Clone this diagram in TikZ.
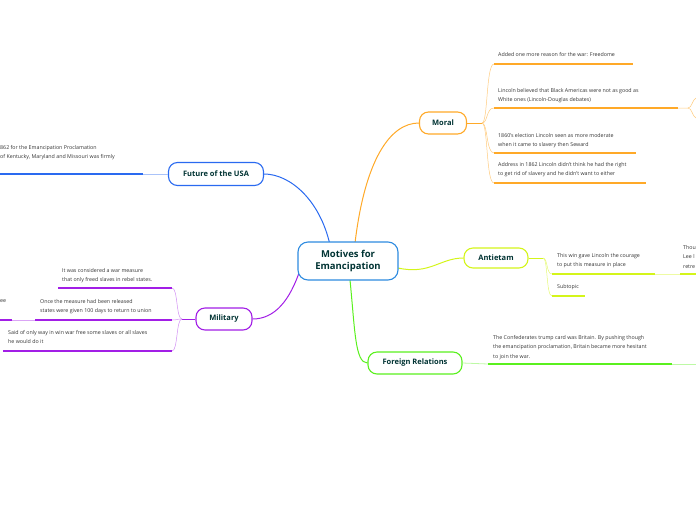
\documentclass[tikz,border=0pt]{standalone}
\usepackage{fontspec}
\setmainfont{Open Sans}
\begin{document}
\begin{tikzpicture}[x=1pt,y=-1pt,
  txt/.style={anchor=north west,inner sep=0pt,align=left,font=\fontsize{5.3}{9.5}\selectfont,text=black!80},
  topic/.style={draw,line width=1.1pt,rounded corners=9pt,fill=white,font=\bfseries\fontsize{7.5}{9}\selectfont,text=teal!40!black,inner sep=0pt},
  conn/.style={line width=1pt}]
\useasboundingbox (0,0) rectangle (696,520);
\definecolor{cor}{HTML}{FFA928}\definecolor{cyl}{HTML}{D4F51A}\definecolor{cgr}{HTML}{5AF01E}
\definecolor{cpu}{HTML}{A21EE6}\definecolor{cbl}{HTML}{2A6AF0}\definecolor{cce}{HTML}{2E8BE0}
% connectors (centre)
\coordinate (cM) at (355,243); \coordinate (cF) at (330,245);\coordinate (cMi) at (300,270);
\coordinate (cA) at (398,268);\coordinate (cFo) at (350,280);
\node[topic,draw=cor,minimum width=47pt,minimum height=22pt] (moral) at (443,123) {Moral};
\node[topic,draw=cyl,minimum width=64pt,minimum height=20pt] (ant) at (496,258) {Antietam};
\node[topic,draw=cgr,minimum width=94pt,minimum height=22pt] (for) at (415,363) {Foreign Relations};
\node[topic,draw=cpu,minimum width=56pt,minimum height=22pt] (mil) at (224,319) {Military};
\node[topic,draw=cbl,minimum width=95pt,minimum height=23pt] (fut) at (216,174) {Future of the USA};
\draw[conn,cor] (cM) .. controls (365,160) and (390,123) .. (moral.west);
\draw[conn,cbl] (fut.east) .. controls (290,174) and (320,200) .. (cF);
\draw[conn,cpu] (mil.east) .. controls (275,319) and (290,300) .. (cMi);
\draw[conn,cyl] (cA) .. controls (430,275) and (440,258) .. (ant.west);
\draw[conn,cgr] (cFo) .. controls (355,330) and (355,363) .. (for.west);
\node[draw=cce,line width=1.1pt,rounded corners=10pt,fill=white,minimum width=100pt,minimum height=38pt,align=center,font=\bfseries\fontsize{9.5}{12}\selectfont,text=teal!40!black] (c) at (348,261) {Motives for\\Emancipation};
% Moral children
\coordinate (mf) at (482,123);
\draw[cor,line width=0.6pt] (moral.east) -- (mf);
\foreach \y/\e in {64/633,108/678,153/636,183/646}{
 \draw[cor!60,line width=0.5pt] (mf) .. controls (488,123) and (486,\y) .. (494,\y);
 \draw[cor,line width=1.2pt] (494,\y) -- (\e,\y);}
\draw[cor!60,line width=0.5pt] (678,108) -- (688,108) .. controls (692,108) and (692,100) .. (696,98);
\draw[cor!60,line width=0.5pt] (688,108) .. controls (692,108) and (692,116) .. (696,118);
\node[txt] (m1) at (498,52) {Added one more reason for the war: Freedome};
\node[txt] (m2) at (498,88) {Lincoln believed that Black Americas were not as good as\\White ones (Lincoln-Douglas debates)};
\node[txt] (m3) at (498,133) {1860's election Lincoln seen as more moderate\\when it came to slavery then Seward};
\node[txt] (m4) at (498,162) {Address in 1862 Lincoln didn't think he had the right\\to get rid of slavery and he didn't want to either};
% Antietam
\coordinate (af) at (543,258);
\draw[cyl,line width=0.6pt] (ant.east) -- (af);
\draw[cyl!60,line width=0.5pt] (af) .. controls (548,258) and (546,274) .. (552,274);
\draw[cyl!60,line width=0.5pt] (af) .. controls (548,258) and (546,296) .. (552,296);
\draw[cyl,line width=1.2pt] (552,274) -- (655,274);
\draw[cyl!40,line width=0.8pt] (655,274) -- (680,274);
\draw[cyl,line width=1.2pt] (680,274) -- (696,274);
\draw[cyl,line width=1.2pt] (552,296) -- (585,296);
\node[txt] (a1) at (557,253) {This win gave Lincoln the courage\\to put this measure in place};
\node[txt] (a2) at (557,284) {Subtopic};
\node[txt] (a3) at (683,245) {Thou\\Lee l\\retre};
% Foreign
\draw[cgr!40,line width=0.8pt] (for.east) -- (488,364);
\draw[cgr,line width=1.2pt] (488,364) -- (672,364);
\draw[cgr!40,line width=0.8pt] (672,364) -- (696,364);
\node[txt] (f1) at (493,335) {The Confederates trump card was Britain. By pushing though\\the emancipation proclamation, Britain became more hesitant\\to join the war.};
% Military
\coordinate (lf) at (182,319);
\draw[cpu,line width=0.6pt] (mil.west) -- (lf);
\foreach \y/\s in {288/58,320/35,351/3}{
 \draw[cpu!50,line width=0.5pt] (lf) .. controls (176,319) and (178,\y) .. (172,\y);
 \draw[cpu,line width=1.2pt] (172,\y) -- (\s,\y);}
\draw[cpu!40,line width=0.8pt] (35,320) -- (12,320);
\draw[cpu,line width=1.2pt] (12,320) -- (0,320);
\node[txt] (l1) at (62,268) {It was considered a war measure\\that only freed slaves in rebel states.};
\node[txt] (l2) at (40,299) {Once the measure had been released\\states were given 100 days to return to union};
\node[txt] (l3) at (8,330) {Said of only way in win war free some slaves or all slaves\\he would do it};
\node[txt] (l4) at (0,299) {ee};
% Future
\draw[cbl!40,line width=0.8pt] (fut.west) -- (143,174);
\draw[cbl,line width=1.2pt] (143,174) -- (0,174);
\node[txt] (u1) at (0,145) {862 for the Emancipation Proclamation\\of Kentucky, Maryland and Missouri was firmly};
\end{tikzpicture}
\end{document}
